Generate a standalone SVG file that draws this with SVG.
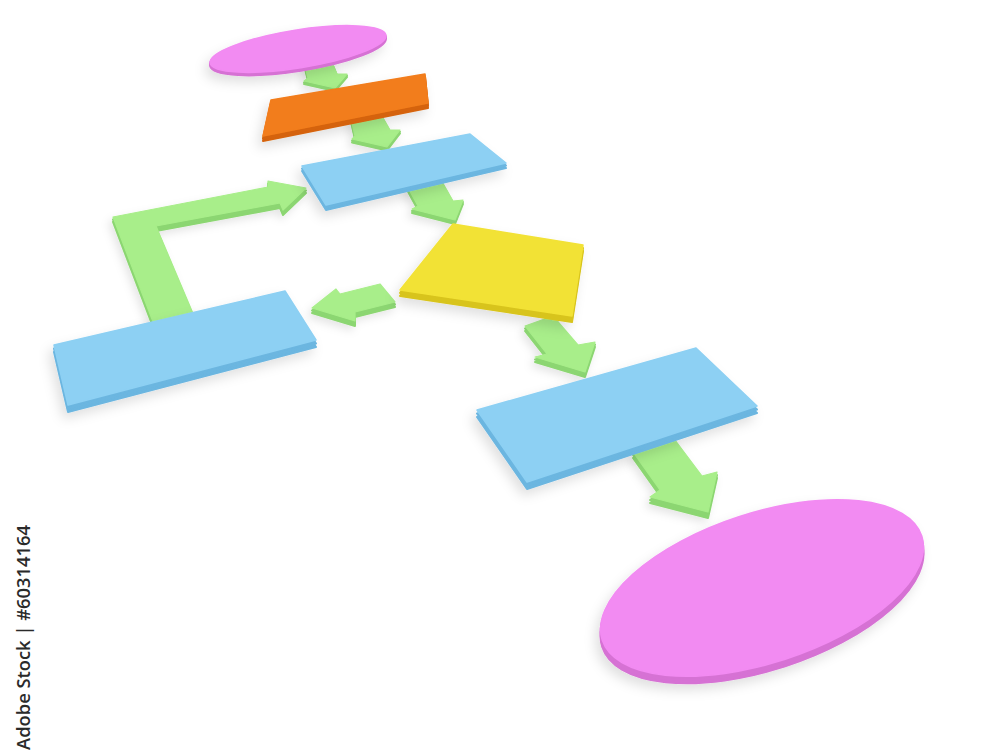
<svg xmlns="http://www.w3.org/2000/svg" xmlns:xlink="http://www.w3.org/1999/xlink" width="1000" height="750" viewBox="0 0 1000 750">
<style>
.pk-s{fill:#D672D4;stroke:#D672D4;stroke-width:2;stroke-linejoin:round}
.pk-t{fill:#F28BF2;stroke:#F28BF2;stroke-width:1.5;stroke-linejoin:round}
.or-s{fill:#D5630C;stroke:#D5630C;stroke-width:2;stroke-linejoin:round}
.or-t{fill:#F27D1B;stroke:#F27D1B;stroke-width:1.5;stroke-linejoin:round}
.bl-s{fill:#6CB6E0;stroke:#6CB6E0;stroke-width:2;stroke-linejoin:round}
.bl-t{fill:#8DD0F3;stroke:#8DD0F3;stroke-width:1.5;stroke-linejoin:round}
.ye-s{fill:#D8C41C;stroke:#D8C41C;stroke-width:2;stroke-linejoin:round}
.ye-t{fill:#F2E236;stroke:#F2E236;stroke-width:1.5;stroke-linejoin:round}
.gr-s{fill:#8CD672;stroke:#8CD672;stroke-width:2;stroke-linejoin:round}
.gr-t{fill:#A8EE8A;stroke:#A8EE8A;stroke-width:1.2;stroke-linejoin:round}
.node{filter:url(#shadow)}
.conn{filter:url(#shadowS)}
.label{font-family:'Open Sans','Noto Sans',sans-serif;font-size:18px;font-weight:600;fill:#2a2a2a}
</style>
<defs>
<filter id="shadow" x="-20%" y="-20%" width="140%" height="150%">
<feDropShadow dx="-4" dy="6" stdDeviation="6" flood-color="#000" flood-opacity="0.12"/>
</filter>
<filter id="shadowS" x="-20%" y="-20%" width="140%" height="150%">
<feDropShadow dx="-3" dy="4" stdDeviation="4" flood-color="#000" flood-opacity="0.1"/>
</filter>
<ellipse id="s-start" cx="298" cy="49" rx="89" ry="19" transform="rotate(-9 298 49)"/>
<polygon id="s-orange" points="271,100 425,74 428,103 263,136"/>
<polygon id="s-blue1" points="302,166 470,134 506,163 326,205"/>
<polygon id="s-yellow" points="453,224 583,245 572,316 400,290"/>
<polygon id="s-blueL" points="54,345 285,291 316,340 68,405"/>
<polygon id="s-blue2" points="477,410 696,348 757,406 527,482"/>
<ellipse id="s-end" cx="762" cy="588" rx="168" ry="75" transform="rotate(-18 762 588)"/>
<polygon id="a1" points="303,58 329,55 337,74 347,74 335,88 304,81 308,78"/>
<polygon id="a2" points="350,114 378,109 390,130 400,130 387,147 352,139 355,136"/>
<polygon id="a3" points="406,184 440,178 453,201 463,200 455,220 412,209 418,206"/>
<polygon id="a4" points="312,308 336,289 340,294 380,284 395,302 355,312 355,321"/>
<polygon id="a5" points="525,326 553,316 578,345 595,342 585,372 535,357 547,354"/>
<polygon id="a6" points="633,452 675,440 702,476 717,472 708,512 650,497 660,490"/>
<polygon id="aL" points="113,217 268,187 268,181 306,188 283,210 280,203 156,226 200,330 158,335"/>
</defs>
<rect width="1000" height="750" fill="#FFFFFF"/>

<g id="connectors">
<g id="arrow-loop" class="conn"><use xlink:href="#aL" class="gr-s" transform="translate(0,5)"/><use xlink:href="#aL" class="gr-s" transform="translate(0,2.5)"/><use xlink:href="#aL" class="gr-t"/></g>
<g id="arrow-start-p1" class="conn"><use xlink:href="#a1" class="gr-s" transform="translate(0,3)"/><use xlink:href="#a1" class="gr-s" transform="translate(0,1.5)"/><use xlink:href="#a1" class="gr-t"/></g>
<g id="arrow-p1-p2" class="conn"><use xlink:href="#a2" class="gr-s" transform="translate(0,3.5)"/><use xlink:href="#a2" class="gr-s" transform="translate(0,1.7)"/><use xlink:href="#a2" class="gr-t"/></g>
<g id="arrow-p2-dec" class="conn"><use xlink:href="#a3" class="gr-s" transform="translate(0,4)"/><use xlink:href="#a3" class="gr-s" transform="translate(0,2)"/><use xlink:href="#a3" class="gr-t"/></g>
<g id="arrow-dec-loop" class="conn"><use xlink:href="#a4" class="gr-s" transform="translate(0,5)"/><use xlink:href="#a4" class="gr-s" transform="translate(0,2.5)"/><use xlink:href="#a4" class="gr-t"/></g>
<g id="arrow-dec-p3" class="conn"><use xlink:href="#a5" class="gr-s" transform="translate(0,5)"/><use xlink:href="#a5" class="gr-s" transform="translate(0,2.5)"/><use xlink:href="#a5" class="gr-t"/></g>
<g id="arrow-p3-end" class="conn"><use xlink:href="#a6" class="gr-s" transform="translate(0,6)"/><use xlink:href="#a6" class="gr-s" transform="translate(0,3)"/><use xlink:href="#a6" class="gr-t"/></g>
</g>

<g id="end" class="node"><use xlink:href="#s-end" class="pk-s" transform="translate(0,7)"/><use xlink:href="#s-end" class="pk-s" transform="translate(0,3.5)"/><use xlink:href="#s-end" class="pk-t"/></g>
<g id="process3" class="node"><use xlink:href="#s-blue2" class="bl-s" transform="translate(0,7)"/><use xlink:href="#s-blue2" class="bl-s" transform="translate(0,3.5)"/><use xlink:href="#s-blue2" class="bl-t"/></g>
<g id="loop-process" class="node"><use xlink:href="#s-blueL" class="bl-s" transform="translate(0,7)"/><use xlink:href="#s-blueL" class="bl-s" transform="translate(0,3.5)"/><use xlink:href="#s-blueL" class="bl-t"/></g>
<g id="decision" class="node"><use xlink:href="#s-yellow" class="ye-s" transform="translate(0,6)"/><use xlink:href="#s-yellow" class="ye-s" transform="translate(0,3)"/><use xlink:href="#s-yellow" class="ye-t"/></g>
<g id="process2" class="node"><use xlink:href="#s-blue1" class="bl-s" transform="translate(0,5)"/><use xlink:href="#s-blue1" class="bl-s" transform="translate(0,2.5)"/><use xlink:href="#s-blue1" class="bl-t"/></g>
<g id="process1" class="node"><use xlink:href="#s-orange" class="or-s" transform="translate(0,5)"/><use xlink:href="#s-orange" class="or-s" transform="translate(0,2.5)"/><use xlink:href="#s-orange" class="or-t"/></g>
<g id="start" class="node"><use xlink:href="#s-start" class="pk-s" transform="translate(0,3)"/><use xlink:href="#s-start" class="pk-s" transform="translate(0,1.5)"/><use xlink:href="#s-start" class="pk-t"/></g>

<text class="label" transform="translate(30,750) rotate(-90)" textLength="225" lengthAdjust="spacingAndGlyphs">Adobe Stock | #60314164</text>
</svg>
